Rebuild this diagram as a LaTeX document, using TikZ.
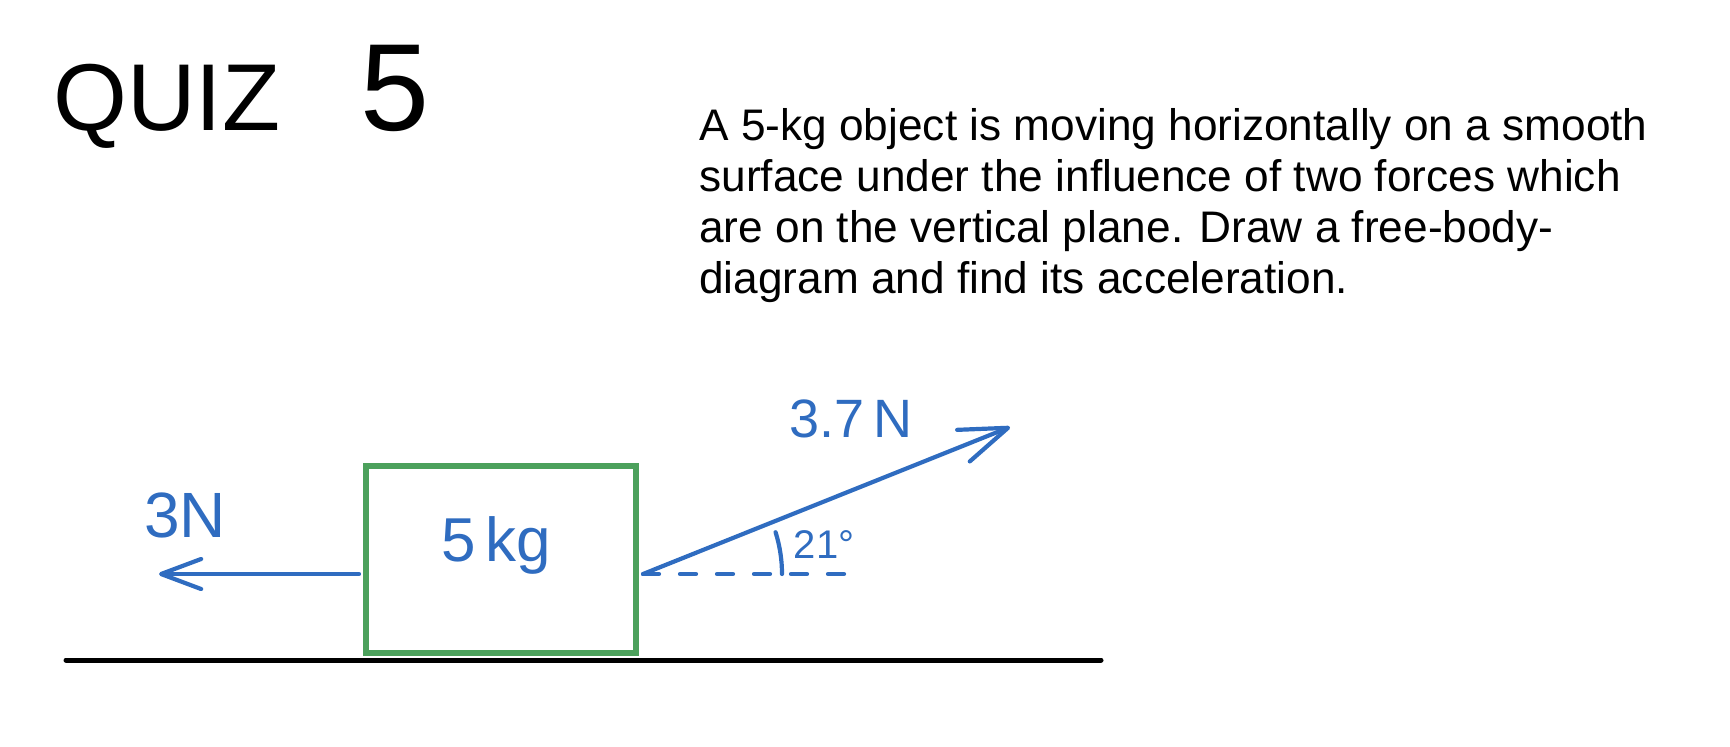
\documentclass[tikz,border=0pt]{standalone}
\usepackage{fontspec}
\setmainfont{Liberation Sans}
\usetikzlibrary{arrows.meta}
\definecolor{penblue}{RGB}{47,108,192}
\definecolor{pengreen}{RGB}{76,161,92}
\begin{document}
\begin{tikzpicture}[x=0.5pt,y=-0.5pt,
  force/.style={draw=penblue,line width=2.1pt,line cap=round},
  barbL/.style={-{Straight Barb[length=20pt,width=15pt,round]}},
  barbR/.style={-{Straight Barb[length=24pt,width=17pt,round]}},
  lbl/.style={text=penblue,inner sep=0pt,anchor=base},
  ground/.style={draw=black,line width=2.5pt,line cap=round},
  block/.style={draw=pengreen,line width=2.7pt,minimum width=135pt,minimum height=93.5pt,inner sep=0pt},
]
\useasboundingbox (0,0) rectangle (1730,746);

\node[anchor=base west,inner sep=0pt,font=\fontsize{47.5}{50}\selectfont] (title) at (53,130) {QUIZ\hspace{40pt}{\fontsize{62}{64}\selectfont 5}};

\node[anchor=north west,inner sep=0pt,align=left,font=\fontsize{22.1}{25.5}\selectfont] (task) at (699,108)
  {A 5-kg object is moving horizontally on a smooth\\
   surface under the influence of two forces which\\
   are on the vertical plane. Draw a free-body-\\
   diagram and find its acceleration.};

\coordinate (g1) at (66,660);
\coordinate (g2) at (1101,660);
\draw[ground] (g1) -- (g2);

\node[block] (box) at (501,559.5) {};
\node[lbl,font=\fontsize{31}{34}\selectfont] (mass) at (496,561) {5\hspace{5pt}kg};

\coordinate (lstart) at (359,574);
\coordinate (ltip) at (159,574);
\draw[force,barbL] (lstart) -- (ltip);
\node[lbl,font=\fontsize{32}{36}\selectfont] (f1) at (185,537) {3N};

\coordinate (rstart) at (643,574);
\coordinate (rtip) at (1010,427);
\coordinate (dashend) at (847,574);
\draw[force,dash pattern=on 8pt off 10.5pt] (rstart) -- (dashend);
\draw[force,barbR] (rstart) -- (rtip);
\draw[force] ([shift={(139,0)}]rstart) arc[start angle=0,end angle=-17.5,radius=139];
\node[lbl,font=\fontsize{27}{30}\selectfont] (f2) at (851,437) {3.7\,N};
\node[lbl,font=\fontsize{20}{22}\selectfont] (ang) at (824,558) {21°};
\end{tikzpicture}
\end{document}
